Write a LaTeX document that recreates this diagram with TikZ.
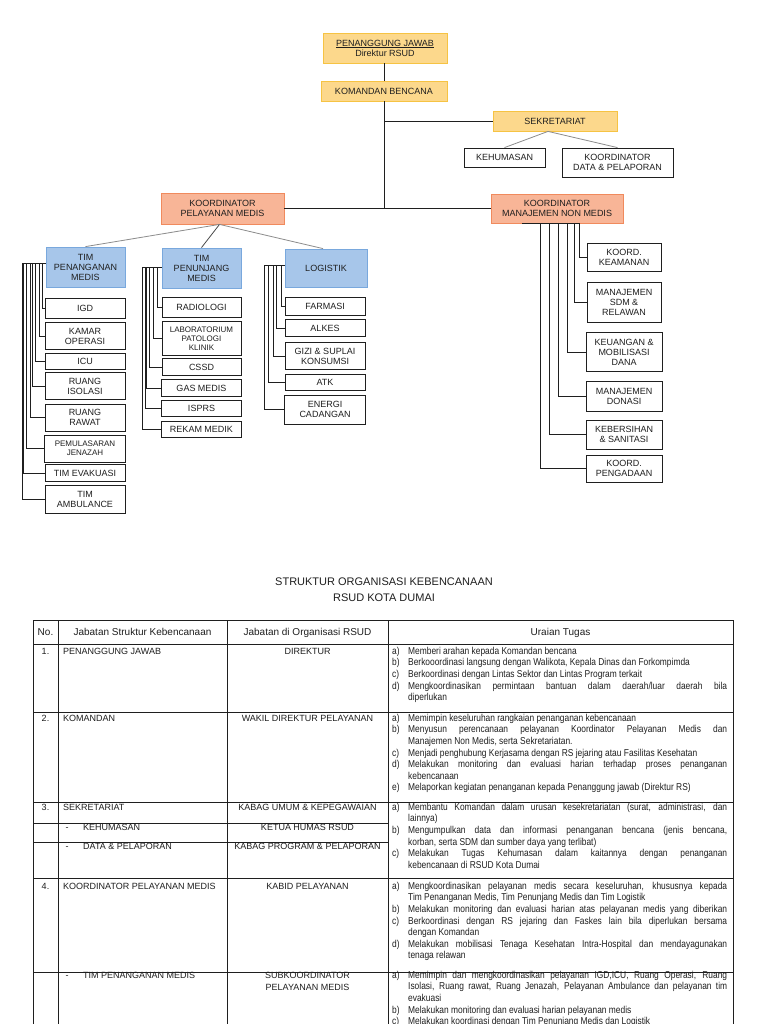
\documentclass[tikz,border=0pt]{standalone}
\usepackage{fontspec}
\setmainfont{Liberation Sans}
\newfontfamily\narrowfont[FakeStretch=0.84]{Liberation Sans}
\usetikzlibrary{positioning}

\definecolor{ink}{HTML}{1F1F1F}
\definecolor{yellowfill}{HTML}{FCD88C}
\definecolor{yellowline}{HTML}{F6C343}
\definecolor{salmonfill}{HTML}{F8B597}
\definecolor{salmonline}{HTML}{F08A5D}
\definecolor{bluefill}{HTML}{A7C6EA}
\definecolor{blueline}{HTML}{79A8DD}
\definecolor{greyline}{HTML}{8C8C8C}
\definecolor{darkline}{HTML}{4A4A4A}

\tikzstyle{block} =
        [
                rectangle,
                draw = ink,
                text = ink,
                align = center,
                inner sep = 1pt,
                line width = 0.8pt,
                font = \fontsize{9}{10}\selectfont
        ]
\tikzstyle{yellow block} = [block, fill = yellowfill, draw = yellowline]
\tikzstyle{salmon block} = [block, fill = salmonfill, draw = salmonline]
\tikzstyle{blue block} = [block, fill = bluefill, draw = blueline]
\tikzstyle{white block} = [block, fill = white]
\tikzstyle{small text} = [font = \fontsize{8}{9.3}\selectfont]
\tikzstyle{line} =
        [
                line width = 0.8pt,
                draw = ink
        ]
\tikzstyle{grey line} = [line width = 0.8pt, draw = greyline]
\tikzstyle{table line} = [line width = 1pt, draw = ink]
\tikzstyle{chart title} = [inner sep = 0pt, text = ink, font = \fontsize{11}{13}\selectfont]
\tikzstyle{table head} = [inner sep = 0pt, text = ink, font = \fontsize{10}{12}\selectfont]
\tikzstyle{cell} = [inner sep = 0pt, text = ink, font = \fontsize{9}{12}\selectfont]
\tikzstyle{duty} =
        [
                anchor = north west,
                inner sep = 0pt,
                text width = 335pt,
                align = justify,
                text = ink,
                font = \narrowfont\fontsize{10}{11.6}\selectfont
        ]
\tikzset{dims/.style 2 args = {minimum width = #1pt, minimum height = #2pt}}

% one numbered duty, hanging under its label
\newcommand{\tugas}[2]{\noindent\hangindent=16pt\hangafter=1\makebox[16pt][l]{\strut#1}#2\par}
\hbadness=10000

\begin{document}
\begin{tikzpicture}[x = 1pt, y = -1pt]
    \useasboundingbox (0,0) rectangle (768,1024);
    \clip (0,0) rectangle (768,1024);
    \fill [white] (0,0) rectangle (768,1024);

    % top of the structure
    \node [yellow block, dims={124}{30}] (pj) at (385,48) {\underline{PENANGGUNG JAWAB}\\Direktur RSUD};
    \node [yellow block, dims={126}{20}] (komandan) at (384,91) {KOMANDAN BENCANA};
    \node [yellow block, dims={124}{20}] (sekretariat) at (555,121) {SEKRETARIAT};
    \node [white block, dims={81}{19}] (kehumasan) at (504.5,157.5) {KEHUMASAN};
    \node [white block, dims={111}{29}] (datalapor) at (617.5,162.5) {KOORDINATOR\\DATA \& PELAPORAN};
    \node [salmon block, dims={123}{31}] (pelayanan) at (222.5,208.5) {KOORDINATOR\\PELAYANAN MEDIS};
    \node [salmon block, dims={132}{29}] (nonmedis) at (557,208.5) {KOORDINATOR\\MANAJEMEN NON MEDIS};

    % teams
    \node [blue block, dims={79}{40}] (penanganan) at (85.5,267) {TIM\\PENANGANAN\\MEDIS};
    \node [blue block, dims={79}{40}] (penunjang) at (201.5,268) {TIM\\PENUNJANG\\MEDIS};
    \node [blue block, dims={82}{38}] (logistik) at (326,268) {LOGISTIK};

    % tim penanganan medis
    \node [white block, dims={80}{20}] (igd) at (85,308) {IGD};
    \node [white block, dims={80}{27}, below=4pt of igd] (kamar) {KAMAR\\OPERASI};
    \node [white block, dims={80}{16}, below=3pt of kamar] (icu) {ICU};
    \node [white block, dims={80}{27}, below=2pt of icu] (isolasi) {RUANG\\ISOLASI};
    \node [white block, dims={80}{27}, below=4pt of isolasi] (rawat) {RUANG\\RAWAT};
    \node [white block, small text, dims={81}{27}, below=3pt of rawat] (jenazah) {PEMULASARAN\\JENAZAH};
    \node [white block, dims={80}{17}, below=2pt of jenazah] (evakuasi) {TIM EVAKUASI};
    \node [white block, dims={80}{28}, below=3pt of evakuasi] (ambulance) {TIM\\AMBULANCE};

    % tim penunjang medis
    \node [white block, dims={79}{20}] (radiologi) at (201.5,307) {RADIOLOGI};
    \node [white block, small text, dims={79}{34}, below=4pt of radiologi] (lab) {LABORATORIUM\\PATOLOGI\\KLINIK};
    \node [white block, dims={79}{17}, below=2pt of lab] (cssd) {CSSD};
    \node [white block, dims={80}{17}, below=3pt of cssd] (gas) {GAS MEDIS};
    \node [white block, dims={80}{16}, below=3pt of gas] (isprs) {ISPRS};
    \node [white block, dims={80}{16}, below=4pt of isprs] (rekam) {REKAM MEDIK};

    % logistik
    \node [white block, dims={80}{18}] (farmasi) at (325,306) {FARMASI};
    \node [white block, dims={80}{17}, below=4pt of farmasi] (alkes) {ALKES};
    \node [white block, dims={80}{27}, below=5pt of alkes] (gizi) {GIZI \& SUPLAI\\KONSUMSI};
    \node [white block, dims={80}{16}, below=4pt of gizi] (atk) {ATK};
    \node [white block, dims={81}{29}, below=4pt of atk] (energi) {ENERGI\\CADANGAN};

    % manajemen non medis
    \node [white block, dims={74}{28}] (keamanan) at (624,257) {KOORD.\\KEAMANAN};
    \node [white block, dims={74}{40}, below=11pt of keamanan] (sdm) {MANAJEMEN\\SDM \&\\RELAWAN};
    \node [white block, dims={76}{39}, below=9pt of sdm] (keuangan) {KEUANGAN \&\\MOBILISASI\\DANA};
    \node [white block, dims={76}{30}, below=9pt of keuangan] (donasi) {MANAJEMEN\\DONASI};
    \node [white block, dims={76}{29}, below=8pt of donasi] (kebersihan) {KEBERSIHAN\\\& SANITASI};
    \node [white block, dims={76}{27}, below=5pt of kebersihan] (pengadaan) {KOORD.\\PENGADAAN};

    % connectors
    \draw [line] (komandan.north |- pj.south) -- (komandan.north);
    \draw [line] (komandan.south) -- (komandan.south |- pelayanan.east);
    \draw [line] (pelayanan.east) -- (nonmedis.west);
    \draw [line] (komandan.south |- sekretariat.west) -- (sekretariat.west);
    \draw [grey line] ([xshift=-7pt]sekretariat.south) -- (kehumasan.north);
    \draw [grey line] ([xshift=-7pt]sekretariat.south) -- (datalapor.north);
    \draw [grey line] ([xshift=-3pt]pelayanan.south) -- (penanganan.north);
    \draw [line, draw=darkline] ([xshift=-3pt]pelayanan.south) -- (penunjang.north);
    \draw [grey line] ([xshift=-3pt]pelayanan.south) -- ([xshift=-3pt]logistik.north);

    \foreach \unit/\d in {igd/3, kamar/6, icu/10, isolasi/13, rawat/15.5, jenazah/19, evakuasi/22, ambulance/23.5}
        \draw [line] ([yshift=4pt]penanganan.west) -- ++(-\d,0) |- (\unit.west);
    \foreach \unit/\d in {radiologi/4, lab/8, cssd/12, gas/15, isprs/16.5, rekam/19}
        \draw [line] ([yshift=1pt]penunjang.west) -- ++(-\d,0) |- (\unit.west);
    \foreach \unit/\d in {farmasi/3, alkes/8, gizi/11, atk/16, energi/20}
        \draw [line] ([yshift=3pt]logistik.west) -- ++(-\d,0) |- (\unit.west);
    \draw [line] ([xshift=-35pt]nonmedis.south) -- ([xshift=22pt]nonmedis.south);
    \foreach \unit/\d in {keamanan/22, sdm/17, keuangan/10, donasi/1, kebersihan/-8, pengadaan/-17}
        \draw [line] ([xshift=\d pt]nonmedis.south) |- (\unit.west);

    % title
    \node [chart title, anchor=base] (judul) at (384,585) {STRUKTUR ORGANISASI KEBENCANAAN};
    \node [chart title, anchor=base] (judulrs) at (384,601) {RSUD KOTA DUMAI};

    % table grid
    \draw [table line] (33,620) -- (733,620);
    \foreach \y in {644, 712, 802, 878, 972}
        \draw [table line] (33,\y) -- (733,\y);
    \foreach \y in {823, 842}
        \draw [table line] (33,\y) -- (388,\y);
    \foreach \x in {33, 58, 227, 388, 733}
        \draw [table line] (\x,620) -- (\x,1030);

    % table head
    \node [table head, anchor=base] (hno) at (45.5,635) {No.};
    \node [table head, anchor=base] (hjabatan) at (142.5,635) {Jabatan Struktur Kebencanaan};
    \node [table head, anchor=base] (hrsud) at (307.5,635) {Jabatan di Organisasi RSUD};
    \node [table head, anchor=base] (huraian) at (560.5,635) {Uraian Tugas};

    % rows
    \node [cell, anchor=base] (no1) at (45.5,654) {1.};
    \node [cell, anchor=base west] (jab1) at (63,654) {PENANGGUNG JAWAB};
    \node [cell, anchor=base] (rs1) at (307.5,654) {DIREKTUR};
    \node [cell, anchor=base] (no2) at (45.5,721) {2.};
    \node [cell, anchor=base west] (jab2) at (63,721) {KOMANDAN};
    \node [cell, anchor=base] (rs2) at (307.5,721) {WAKIL DIREKTUR PELAYANAN};
    \node [cell, anchor=base] (no3) at (45.5,810) {3.};
    \node [cell, anchor=base west] (jab3) at (63,810) {SEKRETARIAT};
    \node [cell, anchor=base] (rs3) at (307.5,810) {KABAG UMUM \& KEPEGAWAIAN};
    \node [cell, anchor=base] (dash3a) at (67,830) {-};
    \node [cell, anchor=base west] (jab3a) at (83,830) {KEHUMASAN};
    \node [cell, anchor=base] (rs3a) at (307.5,830) {KETUA HUMAS RSUD};
    \node [cell, anchor=base] (dash3b) at (67,849) {-};
    \node [cell, anchor=base west] (jab3b) at (83,849) {DATA \& PELAPORAN};
    \node [cell, anchor=base] (rs3b) at (307.5,849) {KABAG PROGRAM \& PELAPORAN};
    \node [cell, anchor=base] (no4) at (45.5,889) {4.};
    \node [cell, anchor=base west] (jab4) at (63,889) {KOORDINATOR PELAYANAN MEDIS};
    \node [cell, anchor=base] (rs4) at (307.5,889) {KABID PELAYANAN};
    \node [cell, anchor=base] (dash4a) at (67,978) {-};
    \node [cell, anchor=base west] (jab4a) at (83,978) {TIM PENANGANAN MEDIS};
    \node [cell, anchor=base] (rs4a) at (307.5,978) {SUBKOORDINATOR};
    \node [cell, anchor=base] (rs4b) at (307.5,990) {PELAYANAN MEDIS};

    % duties
    \node [duty] (tugas1) at (392,646) {%
        \tugas{a)}{Memberi arahan kepada Komandan bencana}
        \tugas{b)}{Berkooordinasi langsung dengan Walikota, Kepala Dinas dan Forkompimda}
        \tugas{c)}{Berkoordinasi dengan Lintas Sektor dan Lintas Program terkait}
        \tugas{d)}{Mengkoordinasikan permintaan bantuan dalam daerah/luar daerah bila \linebreak diperlukan}};
    \node [duty] (tugas2) at (392,713) {%
        \tugas{a)}{Memimpin keseluruhan rangkaian penanganan kebencanaan}
        \tugas{b)}{Menyusun perencanaan pelayanan Koordinator Pelayanan Medis dan \linebreak Manajemen Non Medis, serta Sekretariatan.}
        \tugas{c)}{Menjadi penghubung Kerjasama dengan RS jejaring atau Fasilitas Kesehatan}
        \tugas{d)}{Melakukan monitoring dan evaluasi harian terhadap proses penanganan \linebreak kebencanaan}
        \tugas{e)}{Melaporkan kegiatan penanganan kepada Penanggung jawab (Direktur RS)}};
    \node [duty] (tugas3) at (392,802) {%
        \tugas{a)}{Membantu Komandan dalam urusan kesekretariatan (surat, administrasi, dan \linebreak lainnya)}
        \tugas{b)}{Mengumpulkan data dan informasi penanganan bencana (jenis bencana, \linebreak korban, serta SDM dan sumber daya yang terlibat)}
        \tugas{c)}{Melakukan Tugas Kehumasan dalam kaitannya dengan penanganan \linebreak kebencanaan di RSUD Kota Dumai}};
    \node [duty] (tugas4) at (392,881) {%
        \tugas{a)}{Mengkoordinasikan pelayanan medis secara keseluruhan, khususnya kepada \linebreak Tim Penanganan Medis, Tim Penunjang Medis dan Tim Logistik}
        \tugas{b)}{\makebox[319pt][s]{Melakukan monitoring dan evaluasi harian atas pelayanan medis yang diberikan}}
        \tugas{c)}{Berkoordinasi dengan RS jejaring dan Faskes lain bila diperlukan bersama \linebreak dengan Komandan}
        \tugas{d)}{Melakukan mobilisasi Tenaga Kesehatan Intra-Hospital dan mendayagunakan \linebreak tenaga relawan}};
    \node [duty] (tugas5) at (392,970) {%
        \tugas{a)}{Memimpin dan mengkoordinasikan pelayanan IGD,ICU, Ruang Operasi, Ruang \linebreak Isolasi, Ruang rawat, Ruang Jenazah, Pelayanan Ambulance dan pelayanan tim \linebreak evakuasi}
        \tugas{b)}{Melakukan monitoring dan evaluasi harian pelayanan medis}
        \tugas{c)}{Melakukan koordinasi dengan Tim Penunjang Medis dan Logistik}};
\end{tikzpicture}
\end{document}
